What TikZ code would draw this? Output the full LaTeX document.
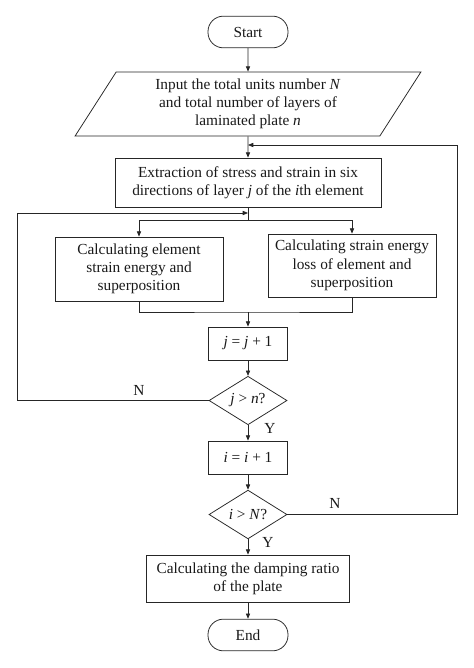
\documentclass[tikz,border=0pt]{standalone}
\usepackage{fontspec}
\setmainfont{Liberation Serif}
\usetikzlibrary{arrows.meta, positioning, shapes.geometric}

\tikzset{
  term/.style={draw, rounded corners=0.46cm, minimum width=2.4cm, minimum height=0.95cm},
  proc/.style={draw, align=center, inner sep=1pt},
  test/.style={draw, diamond, inner sep=0pt, minimum width=2.34cm, minimum height=1.38cm},
  io/.style={draw, trapezium, trapezium left angle=62.7, trapezium right angle=117.3,
             trapezium stretches=true, align=center, minimum width=10.38cm, minimum height=1.92cm},
  lbl/.style={inner sep=1pt}
}

\begin{document}
\begin{tikzpicture}[x=0.03cm,y=-0.03cm,>={Triangle[length=4.5pt,width=3.6pt]},
  font=\fontsize{13.1}{15.6}\selectfont, line width=0.65pt, draw=black!85, text=black!90]

\useasboundingbox (0,0) rectangle (474,668);

% ---- nodi principali ----
\node[term] (start) at (248,32) {Start};
\node[io] (input) at (248,104) {Input the total units number \textit{N}\\
  and total number of layers of\\ laminated plate \textit{n}};
\node[proc, minimum width=7.98cm, minimum height=1.47cm] (extract) at (248,182.5)
  {Extraction of stress and strain in six\\ directions of layer \textit{j} of the \textit{i}th element};
\node[proc, minimum width=5.04cm, minimum height=1.92cm] (calcA) at (139,269)
  {Calculating element\\ strain energy and\\ superposition};
\node[proc, minimum width=5.04cm, minimum height=1.89cm] (calcB) at (352,265.5)
  {Calculating strain energy\\ loss of element and\\ superposition};
\node[proc, minimum width=2.37cm, minimum height=0.99cm] (jinc) at (248,343.5)
  {\textit{j} = \textit{j} + 1};
\node[test] (jchk) at (248,400.5) {\textit{j} > \textit{n}?};
\node[proc, minimum width=2.37cm, minimum height=0.99cm] (iinc) at (248,457.5)
  {\textit{i} = \textit{i} + 1};
\node[test] (ichk) at (248,514.5) {\textit{i} > \textit{N}?};
\node[proc, minimum width=6.09cm, minimum height=1.41cm] (damp) at (248,578.5)
  {Calculating the damping ratio\\ of the plate};
\node[term] (stop) at (248,635) {End};

% ---- punti di snodo ----
\coordinate (split) at (248,220);
\coordinate (merge) at (248,312);
\coordinate (ltop) at (17,213);
\coordinate (rtop) at (457,145);

% ---- frecce ----
\draw[->] (start) -- (input);
\draw[->] (input) -- (extract);
\draw (extract) -- (split);
\draw[->] (split) -| (calcA);
\draw[->] (split) -| (calcB);
\draw (calcA) |- (merge) -| (calcB);
\draw[->] (merge) -- (jinc);
\draw[->] (jinc) -- (jchk);
\draw[->] (jchk) -- (iinc);
\draw[->] (iinc) -- (ichk);
\draw[->] (ichk) -- (damp);
\draw[->] (damp) -- (stop);

% ritorni N
\draw[->] (jchk.west) -- (jchk.west -| ltop) -- (ltop) -- (ltop -| extract);
\draw[->] (ichk.east) -- (ichk.east -| rtop) -- (rtop) -- (rtop -| extract);

% ---- etichette ----
\node[lbl] (jno) at (139,390) {N};
\node[lbl] (jyes) at (270,428) {Y};
\node[lbl] (ino) at (335,503) {N};
\node[lbl] (iyes) at (268,542) {Y};

\end{tikzpicture}
\end{document}
